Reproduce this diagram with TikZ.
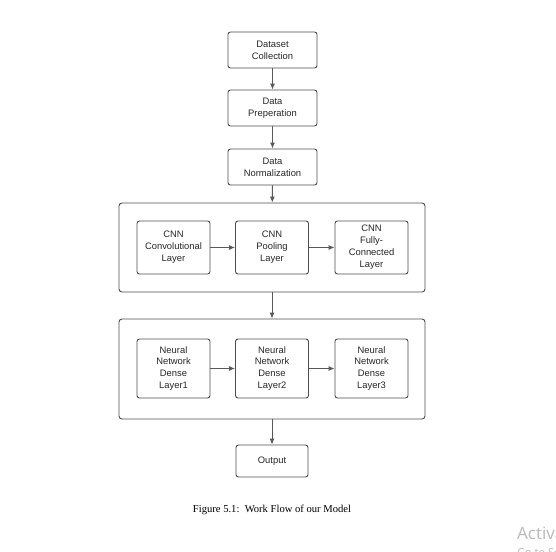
\documentclass[tikz,border=0pt]{standalone}
\usepackage{fontspec}
\setmainfont{Liberation Sans}
\newfontfamily\capfont{Liberation Serif}
\newfontfamily\markfont{Open Sans}
\usetikzlibrary{arrows.meta}
\begin{document}
\begin{tikzpicture}
[x=1pt,y=-1pt,
  boxdecorate/.style={draw=black!70,rounded corners=2.5pt,line width=0.9pt,align=center,
    inner sep=0pt,font=\fontsize{9.4}{11.9}\selectfont,text=black!85},%
  framedecorate/.style={draw=black!70,rounded corners=3pt,line width=0.9pt,inner sep=0pt},%
  arrowdecorate/.style={-{Latex[length=6pt,width=5pt]},draw=black!65,line width=0.9pt},%
  markdecorate/.style={anchor=base west,text=black!28,inner sep=0pt}]
\useasboundingbox (0,0) rectangle (556,551);
%% outer frames
\node (cnnframe) at (272,247.5) [framedecorate,minimum width=306pt,minimum height=89pt] {};
\node (nnframe) at (272,369) [framedecorate,minimum width=306pt,minimum height=100pt] {};
%% main column
\foreach \nodename/\y/\boxtext in {dataset/50/Dataset\\Collection,
  prep/108/Data\\Preperation, norm/167/Data\\Normalization} {
  \node (\nodename) at (272.5,\y) [boxdecorate,minimum width=89pt,minimum height=36pt] {\boxtext};
}
\node (output) at (272,461) [boxdecorate,minimum width=72pt,minimum height=32pt] {Output};
%% inner layers
\foreach \nodename/\x/\boxtext in {conv/173.5/CNN\\Convolutional\\Layer,
  pool/272/CNN\\Pooling\\Layer, fc/371.5/CNN\\Fully-\\Connected\\Layer} {
  \node (\nodename) at (\x,247.5) [boxdecorate,minimum width=73pt,minimum height=53pt] {\boxtext};
}
\foreach \nodename/\x/\num in {dense1/173.5/1, dense2/272/2, dense3/371.5/3} {
  \node (\nodename) at (\x,368.5) [boxdecorate,minimum width=73pt,minimum height=59pt]
    {Neural\\Network\\Dense\\Layer\num};
}
%% edges
\path
\foreach \startnode/\endnode in {dataset/prep, prep/norm, norm/cnnframe, cnnframe/nnframe,
  nnframe/output, conv/pool, pool/fc, dense1/dense2, dense2/dense3} {
  (\startnode) edge[arrowdecorate] (\endnode)
};
%% caption
\node (caption) at (272,510) [font=\capfont\fontsize{10.6}{12}\selectfont] {Figure 5.1:\ \ Work Flow of our Model};
%% watermark
\begin{scope}
\clip (0,0) rectangle (556,551);
\node (markone) at (517,539.5) [markdecorate,font=\markfont\fontsize{17}{20}\selectfont] {Activate Windows};
\node (marktwo) at (517,556) [markdecorate,font=\markfont\fontsize{11}{13}\selectfont] {Go to Settings to activate Windows.};
\end{scope}
\end{tikzpicture}
\end{document}
